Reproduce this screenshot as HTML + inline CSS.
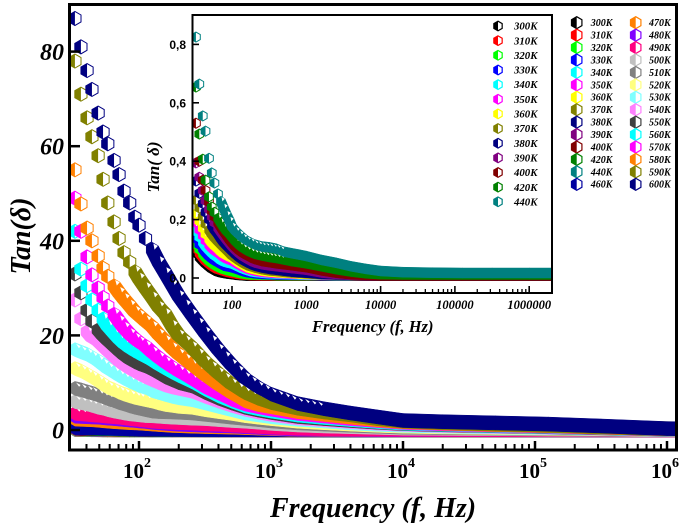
<!DOCTYPE html>
<html lang="en">
<head>
<meta charset="utf-8">
<title>Tan delta versus frequency</title>
<style>
html,body{margin:0;padding:0;background:#fff;width:685px;height:526px;overflow:hidden}
svg{display:block}
.serif{font-family:"Liberation Serif",serif;font-weight:bold}
.sans{font-family:"Liberation Sans",sans-serif;font-weight:bold}
</style>
</head>
<body>
<svg id="chart" xmlns="http://www.w3.org/2000/svg" width="685" height="526" viewBox="0 0 685 526">
  <defs>
    <clipPath id="main-clip"><rect x="69" y="4" width="608" height="446"/></clipPath>
    <clipPath id="inset-clip"><rect x="192" y="15" width="360" height="278"/></clipPath>
  </defs>
  <rect width="685" height="526" fill="#fff"/>
  <g id="main-marks" clip-path="url(#main-clip)"></g>
  <rect x="69.5" y="4.5" width="607" height="445.5" fill="none" stroke="#000" stroke-width="3"/>
  <g id="main-axes"></g>
  <rect x="192" y="15" width="360" height="278" fill="#fff"/>
  <g id="inset-marks" clip-path="url(#inset-clip)"></g>
  <rect x="192.5" y="15" width="359.5" height="278" fill="none" stroke="#000" stroke-width="2"/>
  <g id="inset-axes"></g>
  <g id="legends"></g>
  <text class="serif" font-style="italic" font-size="28" text-anchor="middle" transform="translate(30,236) rotate(-90)">Tan(δ)</text>
  <text class="serif" font-style="italic" font-size="28" x="270" y="517">Frequency (f, Hz)</text>
  <text class="serif" font-style="italic" font-size="17" text-anchor="middle" transform="translate(159,167) rotate(-90)">Tan( δ)</text>
  <text class="serif" font-style="italic" font-size="16.5" x="312" y="332">Frequency (f, Hz)</text>
</svg>
<script>
const frequencies = [32.7,36.3,40.4,44,49,53.4,58,64.7,70.6,77,85,93,100,112,126,141,158,178,200,251,316,398,501,631,794,1000,1585,2512,3981,6310,10000,19953,50119,125893,316228,1000000,2000000];

const t300 = [.085,.07,.058,.048,.038,.03,.025,.021,.019,.017,.015,.014,.013,.011,.01,.009,.008,.008,.008,.008,.008,.008,.008,.008,.008,.008,.008,.008,.008,.008,.008,.008,.008,.008,.008,.008,.008];
const t310 = [.1,.084,.07,.058,.048,.04,.034,.03,.027,.024,.021,.019,.017,.015,.013,.012,.011,.01,.01,.009,.009,.009,.009,.009,.009,.009,.009,.009,.009,.009,.009,.009,.009,.009,.009,.009,.009];
const t320 = [.115,.098,.083,.07,.058,.05,.043,.037,.033,.03,.027,.025,.023,.02,.017,.015,.013,.012,.012,.011,.011,.01,.01,.01,.01,.01,.01,.01,.01,.01,.01,.01,.01,.01,.01,.01,.01];
const t330 = [.135,.115,.1,.087,.074,.066,.059,.052,.047,.042,.04,.038,.036,.032,.027,.023,.02,.018,.016,.014,.013,.012,.012,.011,.011,.011,.01,.01,.01,.01,.01,.01,.01,.01,.01,.01,.01];
const t340 = [.16,.14,.122,.108,.095,.085,.076,.068,.06,.056,.053,.051,.048,.042,.036,.031,.027,.023,.021,.018,.016,.015,.014,.013,.012,.011,.011,.01,.01,.01,.01,.01,.01,.01,.01,.01,.01];
const t350 = [.19,.165,.145,.128,.113,.102,.093,.085,.078,.07,.065,.062,.058,.05,.043,.037,.032,.028,.025,.021,.019,.017,.016,.015,.014,.013,.012,.011,.011,.01,.01,.01,.01,.01,.01,.01,.01];
const t360 = [.22,.195,.17,.15,.133,.12,.11,.1,.09,.082,.076,.072,.068,.059,.05,.043,.037,.033,.03,.025,.022,.02,.018,.017,.015,.014,.013,.012,.011,.01,.01,.01,.01,.01,.01,.01,.01];
const t370 = [.267,.24,.21,.185,.165,.15,.138,.125,.115,.105,.095,.085,.076,.067,.058,.05,.044,.04,.036,.03,.026,.024,.021,.019,.018,.016,.013,.012,.011,.01,.01,.01,.01,.01,.01,.01,.01];
const t380 = [.332,.29,.255,.225,.2,.18,.165,.15,.135,.122,.11,.1,.092,.08,.069,.06,.053,.047,.042,.036,.031,.028,.025,.022,.02,.018,.014,.012,.011,.01,.01,.01,.01,.01,.01,.01,.01];
const t390 = [.394,.345,.3,.265,.235,.21,.19,.172,.158,.145,.13,.118,.108,.095,.083,.073,.065,.058,.053,.047,.043,.04,.037,.034,.031,.028,.019,.014,.011,.01,.01,.01,.01,.01,.01,.01,.01];
const t400 = [.53,.4,.335,.3,.26,.23,.21,.19,.175,.16,.145,.13,.12,.105,.093,.084,.077,.07,.065,.058,.054,.05,.047,.044,.04,.037,.026,.018,.013,.011,.01,.01,.01,.01,.01,.01,.01];
const t420 = [.654,.493,.407,.335,.278,.243,.225,.205,.19,.175,.16,.15,.14,.125,.112,.102,.094,.088,.083,.077,.072,.068,.063,.058,.054,.05,.04,.03,.022,.016,.013,.012,.012,.012,.012,.012,.012];
const t440 = [.825,.664,.555,.503,.41,.36,.325,.288,.263,.24,.215,.195,.175,.16,.148,.137,.128,.122,.115,.108,.105,.1,.09,.085,.08,.075,.062,.052,.04,.031,.024,.02,.018,.017,.017,.017,.017];
const t460 = [.5,.48,.46,.44,.42,.38,.35,.32,.3,.28,.26,.24,.22,.2,.18,.16,.14,.12,.1,.09,.08,.07,.06,.05,.05,.04,.04,.03,.03,.03,.02,.02,.02,.01,.01,.01,.01];
const t470 = [2.3,2.25,2.2,2.15,2.05,1.95,1.85,1.75,1.7,1.6,1.55,1.5,1.45,1.35,1.25,1.15,1.05,.95,.9,.8,.72,.65,.6,.5,.4,.3,.12,.08,.06,.04,.03,.03,.02,.02,.02,.01,.01];
const t480 = [2.9,2.85,2.8,2.75,2.7,2.6,2.5,2.4,2.3,2.2,2.1,2,1.9,1.8,1.6,1.5,1.4,1.3,1.2,1.1,1,.9,.85,.7,.55,.4,.18,.14,.11,.09,.07,.06,.05,.04,.03,.02,.01];
const t490 = [3.5,3.4,3.3,3.2,3.1,3,2.9,2.8,2.7,2.55,2.4,2.3,2.2,2.05,1.85,1.75,1.7,1.6,1.55,1.45,1.3,1.2,1.05,.9,.75,.6,.35,.28,.22,.18,.12,.1,.08,.06,.04,.02,.01];
const t500 = [6,5.8,5.5,5.2,4.8,4.6,4.3,4,3.8,3.6,3.4,3.3,3.2,3.05,3,2.9,2.8,2.7,2.65,2.5,2.4,2.2,2,1.85,1.65,1.4,1.05,.85,.7,.55,.4,.34,.27,.2,.13,.06,.03];
const t510 = [8.8,8.5,8.1,7.8,7.4,7,6.6,6.2,5.8,5.5,5.1,4.8,4.6,4.3,4,3.9,3.85,3.8,3.75,3.6,3.3,3,2.7,2.45,2.2,1.9,1.5,1.25,1,.8,.6,.5,.4,.3,.2,.09,.05];
const t520 = [13,12.5,11.8,11.2,10.4,9.7,9,8.5,8,7.6,7.2,6.9,6.7,6.4,6.1,5.7,5.4,5.2,5,4.8,4.3,3.9,3.5,3.05,2.7,2.4,1.85,1.55,1.25,1,.8,.65,.52,.4,.27,.12,.06];
const t530 = [17,16.5,16,15.4,14.6,13.8,13,12.2,11.5,10.9,10.3,9.8,9.4,9,8.3,7.9,7.5,7.1,6.8,6.4,5.7,5,4.3,3.6,3.2,2.8,2.25,1.9,1.5,1.2,1,.82,.65,.5,.33,.15,.08];
const t540 = [27.5,23.5,20.8,19.6,18.8,17.8,16.8,15.6,14.6,13.8,13,12.4,11.9,11.2,10.6,10,9.5,9.1,8.8,8.2,7.1,6.1,5.2,4.4,3.8,3.3,2.55,2.15,1.8,1.45,1.2,.98,.78,.6,.4,.18,.1];
const t550 = [33,29,25.3,23,21.2,20,19,17.8,16.8,15.9,15,14.4,14,13.5,12.8,12,11.2,10.6,10,9.3,7.9,6.7,5.7,4.8,4.2,3.7,2.85,2.4,2,1.65,1.35,1.1,.88,.68,.45,.2,.12];
const t560 = [42,34,30.5,27.5,25.3,23.5,22,20.5,19.3,18.3,17.4,16.7,16.2,15.5,14.7,13.8,13,12.2,11.5,10.2,8.6,7.2,6.1,5.1,4.5,4,3.15,2.65,2.2,1.8,1.45,1.2,.96,.74,.5,.22,.13];
const t570 = [49,42,36.6,32.8,30,28,26.2,24.5,23,21.6,20.3,19.3,18.6,17.7,16.4,15.3,14.3,13.3,12.4,10.8,9.1,7.8,6.5,5.5,4.9,4.4,3.5,2.95,2.4,2,1.6,1.32,1.05,.82,.55,.24,.15];
const t580 = [55,47.8,42.7,40,36.8,34.2,32.5,30.5,29,27.7,26.3,25,24.2,23,21.8,20.2,18.8,17.3,16,13.8,11.6,9.6,7.8,6.2,5.4,4.9,3.9,3.3,2.7,2.15,1.75,1.45,1.15,.9,.6,.26,.16];
const t590 = [78,71,66,62,58,53,48,44,40.5,37.5,35.5,33.5,32,30,28,26,24.5,22,20,17.5,14.5,12,9.7,7.9,6.7,5.8,4.6,3.8,3.2,2.4,1.85,1.55,1.25,.97,.65,.28,.18];
const t600 = [87,81,76,72,67,63,60.5,57,54,50.5,48,45,43.3,40.5,38.2,35.5,33.2,30.7,28.3,24.4,20.6,17,13.8,11,9.1,7.6,5.6,4.5,3.6,2.8,2,1.75,1.5,1.25,.85,.3,.2];

const seriesLabels = ['300K','310K','320K','330K','340K','350K','360K','370K','380K','390K','400K','420K','440K','460K','470K','480K','490K','500K','510K','520K','530K','540K','550K','560K','570K','580K','590K','600K'];
const seriesValues = [t300,t310,t320,t330,t340,t350,t360,t370,t380,t390,t400,t420,t440,t460,t470,t480,t490,t500,t510,t520,t530,t540,t550,t560,t570,t580,t590,t600];
const seriesColors = ['#000000','#ff0000','#00ff00','#0000ff','#00ffff','#ff00ff','#ffff00','#808000','#000080','#800080','#800000','#008000','#008080','#0000a0','#ff8000','#8000ff','#ff0080','#c0c0c0','#808080','#ffff80','#80ffff','#ff80ff','#404040','#00ffff','#ff00ff','#ff8000','#808000','#000080'];

const mainYTicks = [0,20,40,60,80];
const mainXDecades = [2,3,4,5,6];
const insetYTicks = [0,0.2,0.4,0.6,0.8];
const insetYTickLabels = ['0,0','0,2','0,4','0,6','0,8'];
const insetXTicks = [100,1000,10000,100000,1000000];
const insetXTickLabels = ['100','1000','10000','100000','1000000'];

const NS = 'http://www.w3.org/2000/svg';
function make(tag, attrs, parent, text) {
  const el = document.createElementNS(NS, tag);
  for (const k in attrs) el.setAttribute(k, attrs[k]);
  if (text !== undefined) el.textContent = text;
  parent.appendChild(el);
  return el;
}
function mainX(f) { return 139 + 132 * Math.log10(f / 100); }
function mainY(v) { return 430 - 4.73 * v; }
function insetX(f) { return 232 + 74.3 * Math.log10(f / 100); }
function insetY(v) { return 278 - 292 * v; }

function hexPoints(cx, cy, r) {
  const w = r * 0.87;
  return [[cx,cy-r],[cx+w,cy-r/2],[cx+w,cy+r/2],[cx,cy+r],[cx-w,cy+r/2],[cx-w,cy-r/2]];
}
function hull(points) {
  const p = points.slice().sort((a, b) => a[0] - b[0] || a[1] - b[1]);
  const cross = (o, a, b) => (a[0]-o[0])*(b[1]-o[1]) - (a[1]-o[1])*(b[0]-o[0]);
  const lower = [], upper = [];
  for (const q of p) {
    while (lower.length >= 2 && cross(lower[lower.length-2], lower[lower.length-1], q) <= 0) lower.pop();
    lower.push(q);
  }
  for (let i = p.length - 1; i >= 0; i--) {
    const q = p[i];
    while (upper.length >= 2 && cross(upper[upper.length-2], upper[upper.length-1], q) <= 0) upper.pop();
    upper.push(q);
  }
  return lower.slice(0, -1).concat(upper.slice(0, -1));
}
function toPath(pts) {
  return 'M' + pts.map(p => p[0].toFixed(1) + ' ' + p[1].toFixed(1)).join('L') + 'Z';
}
function drawHex(parent, cx, cy, r, color, sw) {
  const w = r * 0.87;
  const full = make('polygon', {points:hexPoints(cx, cy, r).join(' '), fill:'#fff', stroke:color, 'stroke-width':sw}, parent);
  
  
  const half = make('polygon', {points:`${cx},${cy-r} ${cx},${cy+r} ${cx-w},${cy+r/2} ${cx-w},${cy-r/2}`, fill:color}, parent);
  
  
}
function chainStart(vals, xf, yf, forcedF, threshold) {
  for (let i = 0; i < vals.length - 1; i++) {
    const d = Math.hypot(xf(frequencies[i+1]) - xf(frequencies[i]), yf(vals[i+1]) - yf(vals[i]));
    if (frequencies[i] >= forcedF || d < threshold) return i;
  }
  return vals.length - 1;
}
function drawSeries(parent, s, xf, yf, r, forcedF, threshold, glintMaxF, glintDx, name) {
  const vals = seriesValues[s], color = seriesColors[s];
  const g = make('g', {}, parent);
  
  
  const start = chainStart(vals, xf, yf, forcedF, threshold);
  for (let i = 0; i < start; i++) drawHex(g, xf(frequencies[i]), yf(vals[i]), r, color, 1);
  let d = '';
  for (let i = start; i < vals.length - 1; i++) {
    const a = hexPoints(xf(frequencies[i]), yf(vals[i]), r);
    const b = hexPoints(xf(frequencies[i+1]), yf(vals[i+1]), r);
    d += toPath(hull(a.concat(b)));
  }
  const chain = make('path', {d:d, fill:color, stroke:color, 'stroke-width':0.5}, g);
  
  
  let gl = '';
  const w = r * 0.87, u = r / 7;
  for (let i = start; i < vals.length - 1 && frequencies[i] < glintMaxF; i++) {
    const x0 = xf(frequencies[i]), y0 = yf(vals[i]), x1 = xf(frequencies[i+1]), y1 = yf(vals[i+1]);
    const n = Math.max(1, Math.round((x1 - x0) / glintDx));
    const slope = Math.abs(y1 - y0) / Math.max(0.5, x1 - x0);
    const k = Math.min(2.2, slope * 1.2) * u;
    for (let j = 0; j < n; j++) {
      const x = x0 + (x1 - x0) * j / n, y = y0 + (y1 - y0) * j / n;
      gl += toPath([[x + 1.2*u, y - r + 1.2*u], [x + w - 0.4*u, y - r / 2 + 0.1*u], [x + w - 1.6*u - k, y - r / 2 + 1.6*u + k]]);
    }
  }
  if (gl) {
    const glint = make('path', {d:gl, fill:'#fff'}, g);
    
    
  }
}

/* main plot */
const mainLayer = document.getElementById('main-marks');
for (let s = 0; s < seriesLabels.length; s++) {
  drawSeries(mainLayer, s, mainX, mainY, 7, 126, 9, 2500, 6.5, 'main-series');
}

/* inset plot */
const insetLayer = document.getElementById('inset-marks');
for (let s = 0; s <= 12; s++) {
  drawSeries(insetLayer, s, insetX, insetY, 5, 70, 5.5, 500, 4, 'inset-series');
}

/* main axes */
const mainAxes = document.getElementById('main-axes');
for (const v of mainYTicks) {
  const t = make('line', {x1:70, x2:80, y1:mainY(v), y2:mainY(v), stroke:'#000', 'stroke-width':2.5}, mainAxes);
  
  
  const l = make('text', {x:64, y:mainY(v)+8.5, 'text-anchor':'end', 'font-size':24, 'font-style':'italic', class:'serif'}, mainAxes, String(v));
  
  
}
for (let d = 1; d <= 6; d++) {
  for (let m = 1; m <= 9; m++) {
    const f = m * Math.pow(10, d);
    const x = mainX(f);
    if (x < 72 || x > 675) continue;
    const major = m === 1;
    const t = make('line', {x1:x, x2:x, y1:449, y2:major ? 441 : 444, stroke:'#000', 'stroke-width':major ? 2.5 : 2}, mainAxes);
    
    
  }
}
for (const d of mainXDecades) {
  const x = mainX(Math.pow(10, d));
  const l = make('text', {x:x-16, y:478, 'font-size':21, class:'serif'}, mainAxes, '10');
  
  
  const e = make('text', {x:x+5, y:467, 'font-size':14, class:'serif'}, mainAxes, String(d));
  
  
}

/* inset axes */
const insetAxes = document.getElementById('inset-axes');
insetYTicks.forEach((v, i) => {
  const t = make('line', {x1:193, x2:199, y1:insetY(v), y2:insetY(v), stroke:'#000', 'stroke-width':1.6}, insetAxes);
  
  
  const l = make('text', {x:186, y:insetY(v)+4.5, 'text-anchor':'end', 'font-size':12, class:'sans'}, insetAxes, insetYTickLabels[i]);
  
  
});
for (let d = 1; d <= 6; d++) {
  for (let m = 1; m <= 9; m++) {
    const f = m * Math.pow(10, d);
    const x = insetX(f);
    if (x < 194 || x > 551) continue;
    const major = m === 1;
    const t = make('line', {x1:x, x2:x, y1:292, y2:major ? 286 : 289, stroke:'#000', 'stroke-width':major ? 1.6 : 1.3}, insetAxes);
    
    
  }
}
insetXTicks.forEach((f, i) => {
  const l = make('text', {x:insetX(f), y:309, 'text-anchor':'middle', 'font-size':12.5, 'font-style':'italic', class:'serif'}, insetAxes, insetXTickLabels[i]);
  
  
});

/* legends */
const legends = document.getElementById('legends');
for (let s = 0; s <= 12; s++) {
  const y = 26 + 14.65 * s;
  const g = make('g', {}, legends);
  
  
  drawHex(g, 498, y, 4.8, seriesColors[s], 1.2);
  const l = make('text', {x:514, y:y+3.6, 'font-size':10.8, 'font-style':'italic', class:'serif'}, g, seriesLabels[s]);
  
  
}
for (let s = 0; s < 28; s++) {
  const col = s < 14 ? 0 : 1;
  const row = s < 14 ? s : s - 14;
  const y = 22.7 + 12.43 * row;
  const g = make('g', {}, legends);
  
  
  drawHex(g, col ? 635.7 : 576.7, y, 6, seriesColors[s], 1.2);
  const l = make('text', {x:col ? 649 : 590.7, y:y+3.4, 'font-size':10, 'font-style':'italic', class:'serif'}, g, seriesLabels[s]);
  
  
}
</script>
</body>
</html>
